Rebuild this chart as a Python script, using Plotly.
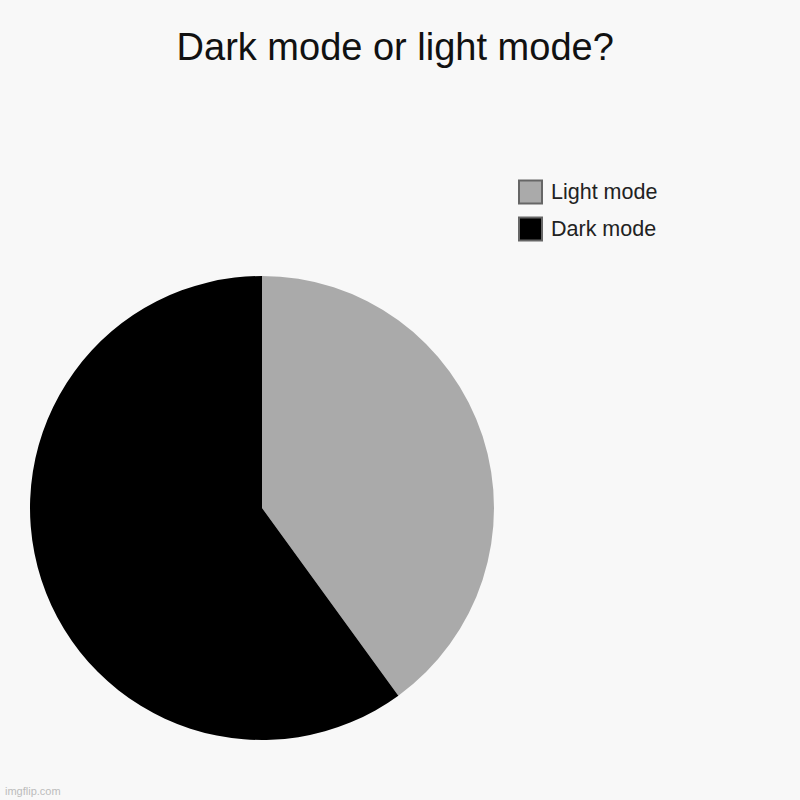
import plotly.graph_objects as go

# ---------- Data ----------

labels = ["Light mode", "Dark mode"]
values = [40, 60]
colors = ["#aaaaaa", "#000000"]

title = "Dark mode or light mode?"
font = "Liberation Sans, Arial, sans-serif"

# ---------- Pie ----------

trace = go.Pie(
    labels=labels,
    values=values,
    marker=dict(colors=colors, line=dict(width=0)),
    sort=False,
    direction="clockwise",
    rotation=0,
    textinfo="none",
    hoverinfo="label+percent",
    showlegend=False,
    domain=dict(x=[0.0375, 0.6175], y=[0.075, 0.655]),
)

layout = go.Layout(
    width=800,
    height=800,
    paper_bgcolor="#f8f8f8",
    plot_bgcolor="#f8f8f8",
    margin=go.layout.Margin(l=0, r=0, t=0, b=0, pad=0),
    font=dict(family=font, color="#111111"),
    title=dict(
        text=title,
        x=0.494,
        xanchor="center",
        y=1 - 47 / 800,
        yanchor="middle",
        yref="container",
        font=dict(size=38, color="#111111", family=font),
    ),
)

fig = go.Figure(data=[trace], layout=layout)

# ---------- Legend (drawn by hand to get the big swatches) ----------

for i, (lab, col) in enumerate(zip(labels, colors)):
    yc = 1 - (192 + 37 * i) / 800
    fig.add_shape(
        type="rect", xref="paper", yref="paper",
        x0=519 / 800, x1=542 / 800,
        y0=yc - 11.5 / 800, y1=yc + 11.5 / 800,
        fillcolor=col, line=dict(color="#666666", width=2),
    )
    fig.add_annotation(
        text=lab, xref="paper", yref="paper",
        x=549 / 800, y=yc, xanchor="left", yanchor="middle",
        showarrow=False, font=dict(size=21.5, color="#222222", family=font),
    )

# watermark
fig.add_annotation(
    text="imgflip.com", xref="paper", yref="paper",
    x=3 / 800, y=1 - 791 / 800, xanchor="left", yanchor="middle",
    showarrow=False, font=dict(size=11, color="#bcbcbc", family=font),
)

# drop the default body margin so the 800x800 figure fills the window
fig.write_html(
    "out.html",
    config={"displayModeBar": False},
    post_script="document.body.style.margin='0';"
                "document.body.style.background='#f8f8f8';",
)
